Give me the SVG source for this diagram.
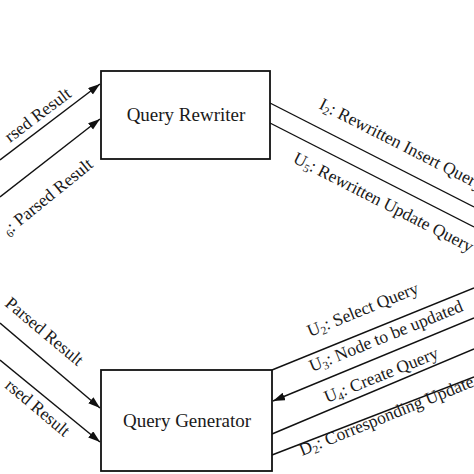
<svg xmlns="http://www.w3.org/2000/svg" width="474" height="474" viewBox="0 0 474 474">
<style>
.box{fill:#fff;stroke:#111;stroke-width:1.8}
.ttl{font-family:"Liberation Serif","Times New Roman",serif;font-size:19px;fill:#1a1a1a;text-anchor:middle}
.lbl{font-family:"Liberation Serif","Times New Roman",serif;font-size:17.5px;fill:#1a1a1a}
.sub{font-size:11.5px}
.ln{stroke:#111;stroke-width:1.4;fill:none}
.arr{marker-end:url(#ah)}
</style>
<defs>
<marker id="ah" markerUnits="userSpaceOnUse" markerWidth="13" markerHeight="9" refX="12" refY="4" orient="auto">
<path d="M0,0 L12,4 L0,8 z" fill="#111"/>
</marker>
</defs>
<rect width="474" height="474" fill="#fff"/>
<g id="connectors">
<line class="ln arr" x1="0" y1="160" x2="100" y2="84"/>
<line class="ln arr" x1="0" y1="197" x2="100" y2="119"/>
<line class="ln arr" x1="0" y1="323" x2="100" y2="408"/>
<line class="ln arr" x1="0" y1="360" x2="100" y2="442"/>
<line class="ln" x1="270" y1="103" x2="474" y2="207"/>
<line class="ln" x1="270" y1="123" x2="474" y2="227"/>
<line class="ln" x1="272" y1="370" x2="474" y2="288"/>
<line class="ln arr" x1="474" y1="318" x2="273" y2="401"/>
<line class="ln" x1="272" y1="434" x2="474" y2="349"/>
<line class="ln" x1="272" y1="455" x2="474" y2="377"/>
<g id="labels">
<text class="lbl" transform="translate(10,143) rotate(-37)">rsed Result</text>
<text class="lbl" transform="translate(8,236) rotate(-39)"><tspan class="sub" dy="3">6</tspan><tspan dy="-3">: Parsed Result</tspan></text>
<text class="lbl" transform="translate(4,305) rotate(40)">Parsed Result</text>
<text class="lbl" transform="translate(4,387) rotate(40)">rsed Result</text>
<text class="lbl" transform="translate(318,108) rotate(27)">I<tspan class="sub" dy="3">2</tspan><tspan dy="-3">: Rewritten Insert Query</tspan></text>
<text class="lbl" transform="translate(292,162) rotate(27)">U<tspan class="sub" dy="3">5</tspan><tspan dy="-3">: Rewritten Update Query</tspan></text>
<text class="lbl" transform="translate(310,337) rotate(-22)">U<tspan class="sub" dy="3">2</tspan><tspan dy="-3">: Select Query</tspan></text>
<text class="lbl" transform="translate(312,372) rotate(-22)">U<tspan class="sub" dy="3">3</tspan><tspan dy="-3">: Node to be updated</tspan></text>
<text class="lbl" transform="translate(327,403) rotate(-22)">U<tspan class="sub" dy="3">4</tspan><tspan dy="-3">: Create Query</tspan></text>
<text class="lbl" transform="translate(302,456) rotate(-22)">D<tspan class="sub" dy="3">2</tspan><tspan dy="-3">: Corresponding Update</tspan></text>
</g>
</g>
<g id="query-rewriter">
<rect class="box" x="101" y="71" width="169" height="88"/>
<text class="ttl" x="186" y="121">Query Rewriter</text>
</g>
<g id="query-generator">
<rect class="box" x="101" y="370" width="171" height="101"/>
<text class="ttl" x="187" y="427">Query Generator</text>
</g>
</svg>
